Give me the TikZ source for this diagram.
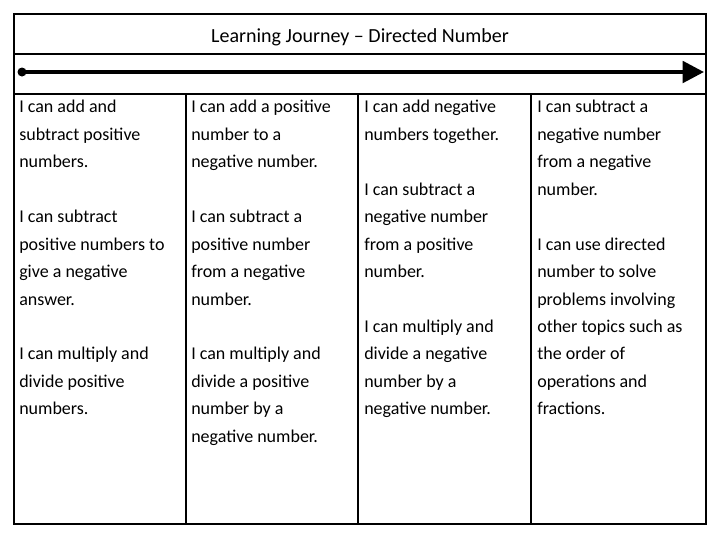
\documentclass[tikz,border=0pt]{standalone}
\usepackage{fontspec}
\setmainfont{Carlito}
\usetikzlibrary{arrows.meta}
\tikzset{
  font={\fontsize{13.5pt}{20.6pt}\selectfont},
  coltext/.style={anchor=north west, align=left, inner sep=0pt}}

\begin{document}
\begin{tikzpicture}[x=0.75pt,y=-0.75pt]
\useasboundingbox (0,0) rectangle (720,540);
%% frame and rows
\draw[line width=1pt] (14,14) rectangle (706,524);
\draw[line width=1pt] (14,54) -- (706,54);
\draw[line width=1pt] (14,94) -- (706,94);
%% columns
\foreach \x in {186,358,531}
  \draw[line width=1pt] (\x,94) -- (\x,524);
\node (title) at (360,37) {\fontsize{15pt}{18pt}\selectfont Learning Journey -- Directed Number};
%% journey arrow
\coordinate (start) at (22,72);
\coordinate (finish) at (704,72);
\fill (start) circle (4.5);
\draw[line width=3pt, -{Stealth[length=16pt,width=16pt,inset=0pt]}] (start) -- (finish);
%% column texts
\node[coltext] (colA) at (19,100) {I can add and\\subtract positive\\numbers.\\~\\I can subtract\\positive numbers to\\give a negative\\answer.\\~\\I can multiply and\\divide positive\\numbers.};
\node[coltext] (colB) at (191,100) {I can add a positive\\number to a\\negative number.\\~\\I can subtract a\\positive number\\from a negative\\number.\\~\\I can multiply and\\divide a positive\\number by a\\negative number.};
\node[coltext] (colC) at (364,100) {I can add negative\\numbers together.\\~\\I can subtract a\\negative number\\from a positive\\number.\\~\\I can multiply and\\divide a negative\\number by a\\negative number.};
\node[coltext] (colD) at (537,100) {I can subtract a\\negative number\\from a negative\\number.\\~\\I can use directed\\number to solve\\problems involving\\other topics such as\\the order of\\operations and\\fractions.};
\end{tikzpicture}
\end{document}
